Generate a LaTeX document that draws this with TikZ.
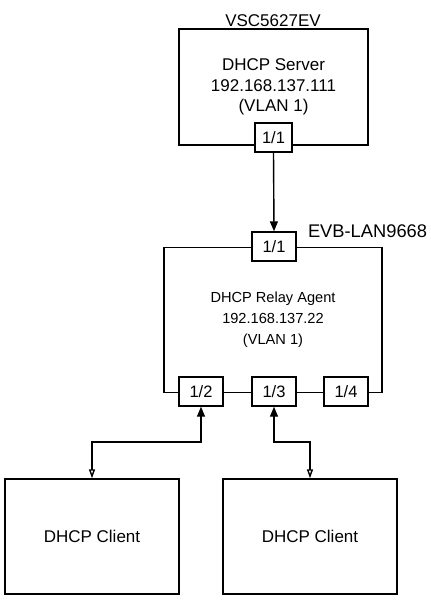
\documentclass[tikz,border=0pt]{standalone}
\usepackage{fontspec}
\setmainfont{Liberation Sans}
\usetikzlibrary{arrows.meta}

\begin{document}
\begin{tikzpicture}[x=1bp,y=-1bp, line width=1.4bp,
  every node/.style={font=\fontsize{17bp}{20.5bp}\selectfont},
  box/.style={draw, align=center, inner sep=0pt},
  port/.style={draw, fill=white, minimum width=44bp, minimum height=29bp, inner sep=0pt,
    font=\fontsize{16.5bp}{19bp}\selectfont}]
  \useasboundingbox (0,0) rectangle (430,607);
  % server board
  \node[box, minimum width=189bp, minimum height=116bp] (server) at (273.5,87)
    {DHCP Server\\192.168.137.111\\(VLAN 1)};
  \node at (273,21) (serverlbl) {VSC5627EV};
  \node[port, minimum width=37bp] (s11) at (273.5,137.5) {1/1};
  % relay board
  \node[box, minimum width=218bp, minimum height=145bp,
    font=\fontsize{14.6bp}{21bp}\selectfont] (relay) at (273,320)
    {DHCP Relay Agent\\192.168.137.22\\(VLAN 1)};
  \node[anchor=west, font=\fontsize{18.3bp}{21bp}\selectfont] at (304,231) (relaylbl) {EVB-LAN9668};
  \node[port] (r11) at (274,246.5) {1/1};
  \foreach \n/\xx in {2/201,3/274,4/346}
    \node[port] (r1\n) at (\xx,391.5) {1/\n};
  % clients
  \node[box, minimum width=174bp, minimum height=115bp] (clientA) at (92,536.5) {DHCP Client};
  \node[box, minimum width=174bp, minimum height=115bp] (clientB) at (310,536.5) {DHCP Client};
  \coordinate (bendA) at (92,442);
  \coordinate (bendB) at (310,442);
  % links
  \draw[-{Triangle[width=8bp,length=10bp]}] (s11.south) -- (r11.north);
  \draw[{Triangle[width=8bp,length=10bp]}-{Triangle[open,width=6bp,length=9bp]}]
    (r12.south) |- (bendA) -- (clientA.north);
  \draw[{Triangle[width=8bp,length=10bp]}-{Triangle[open,width=6bp,length=9bp]}]
    (r13.south) |- (bendB) -- (clientB.north);
\end{tikzpicture}
\end{document}
